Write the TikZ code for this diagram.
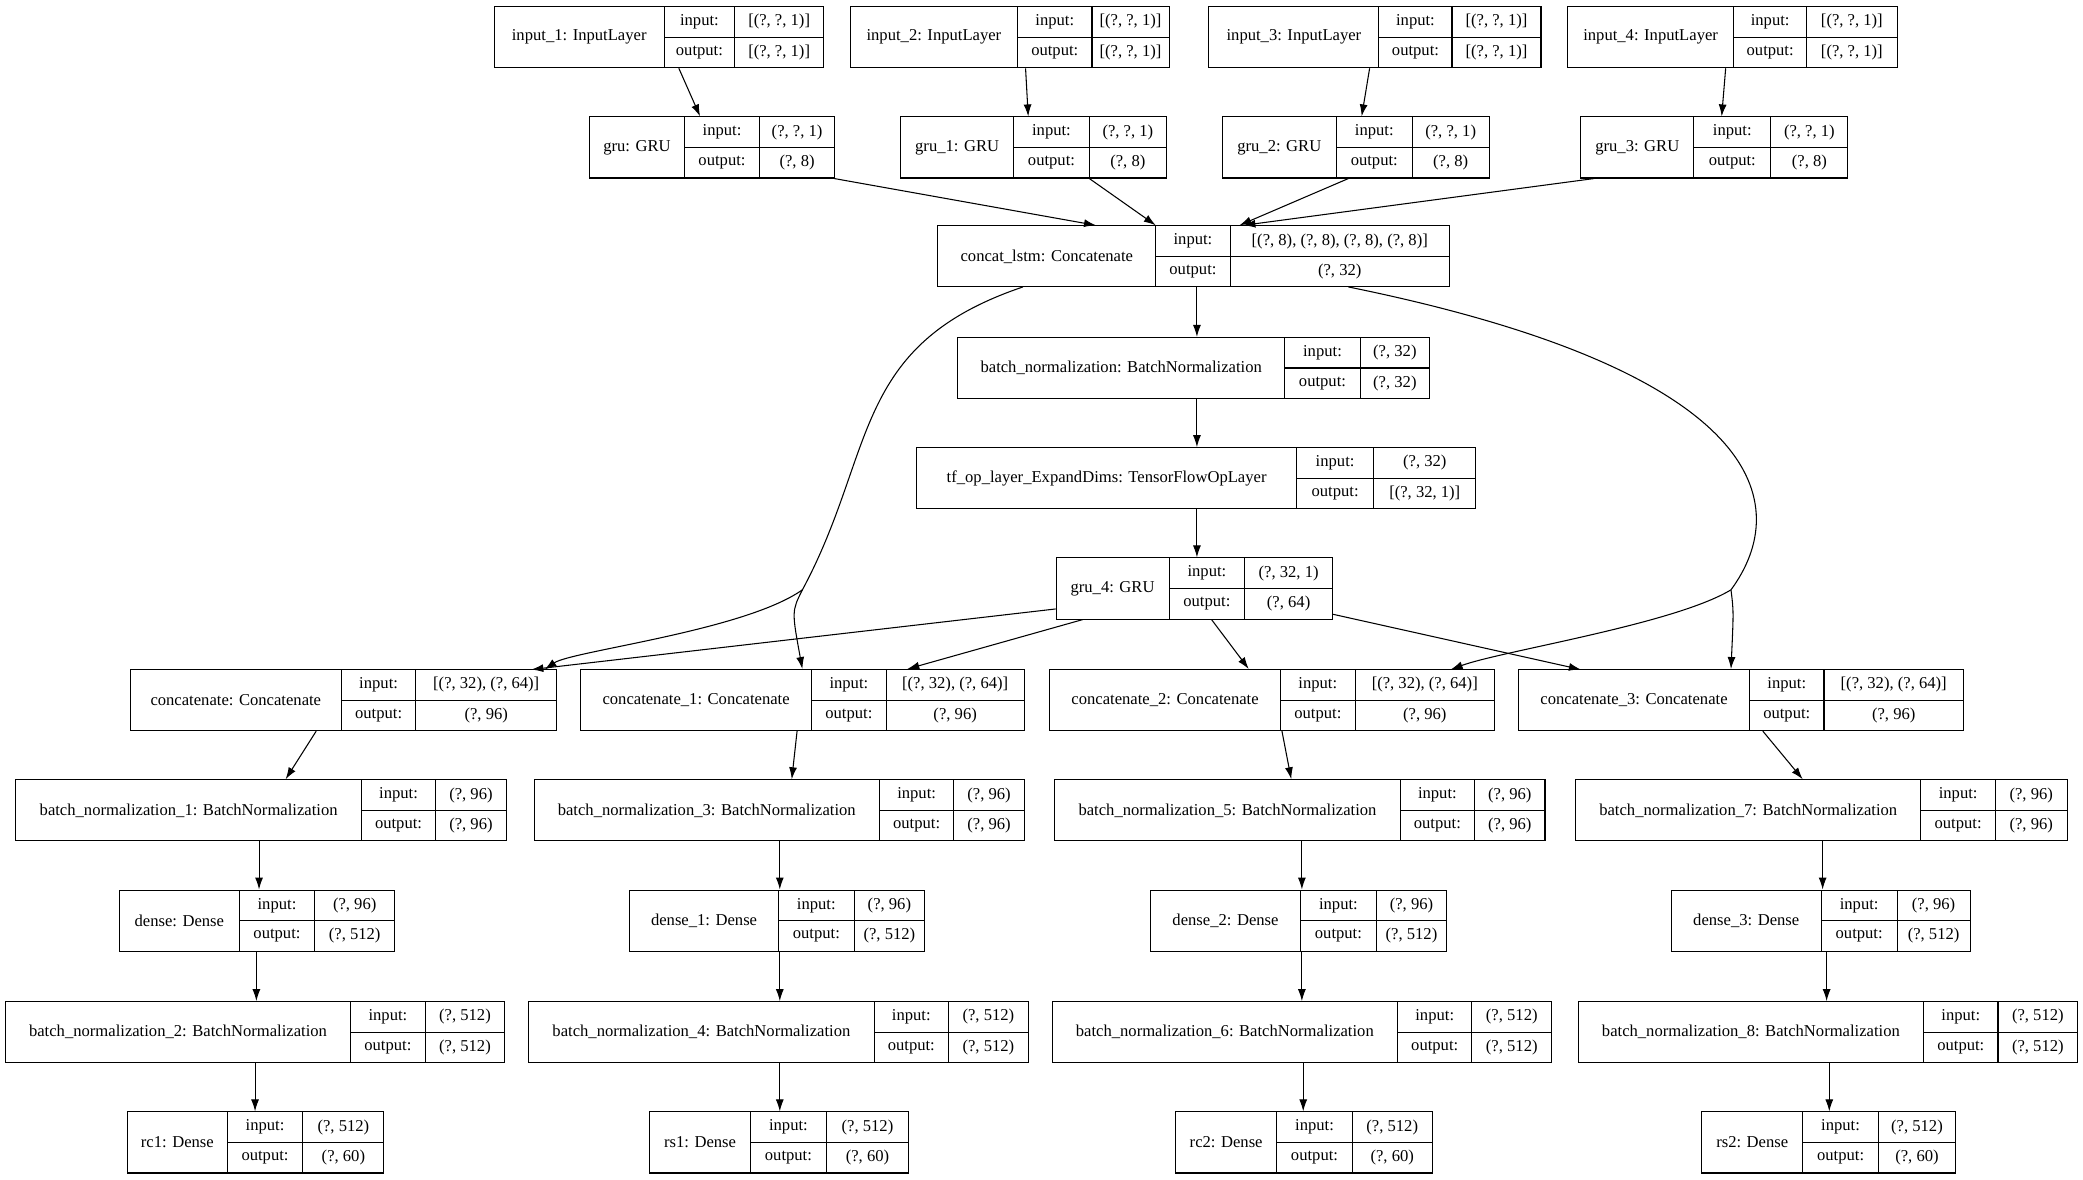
\documentclass[tikz,border=0pt]{standalone}
\usepackage{fontspec}
\setmainfont{Liberation Serif}
\usetikzlibrary{calc,arrows.meta}
\tikzset{arr/.style={-{Latex[length=9pt,width=6pt]},line width=0.8pt},
box/.style={draw,line width=0.8pt,inner sep=0,minimum height=46pt}}
\newcommand\layer[9]{%
\pgfmathsetmacro\cx{(#2+#3)/2}\pgfmathsetmacro\bw{#3-#2}\pgfmathsetmacro\cy{#4+23}%
\node[box,minimum width=\bw pt] (#1) at (\cx,\cy) {};
\draw[line width=0.8pt] (#5,#4) -- (#5,#4+46) (#6,#4) -- (#6,#4+46) (#5,\cy) -- (#3,\cy);
\node at ({(#2+#5)/2},\cy) {#7};
\node at ({(#5+#6)/2},#4+11.5) {input:};
\node at ({(#5+#6)/2},#4+34.5) {output:};
\node at ({(#6+#3)/2},#4+11.5) {#8};
\node at ({(#6+#3)/2},#4+34.5) {#9};}
\newcommand\edge[4]{\draw[arr] let \p1=(#1.south), \p2=(#3.north) in (#2pt,\y1) -- (#4pt,\y2);}
\begin{document}
\begin{tikzpicture}[x=1pt,y=-1pt,font=\fontsize{12.5}{14}\selectfont]
\useasboundingbox[fill=white] (0,0) rectangle (1568,888);
\layer{in1}{372}{620}{5}{500}{553}{input\_1: InputLayer}{[(?, ?, 1)]}{[(?, ?, 1)]}
\layer{in2}{640}{880}{5}{766}{822}{input\_2: InputLayer}{[(?, ?, 1)]}{[(?, ?, 1)]}
\layer{in3}{910}{1160}{5}{1038}{1093}{input\_3: InputLayer}{[(?, ?, 1)]}{[(?, ?, 1)]}
\layer{in4}{1180}{1428}{5}{1305}{1360}{input\_4: InputLayer}{[(?, ?, 1)]}{[(?, ?, 1)]}
\layer{g0}{444}{628}{88}{515}{572}{gru: GRU}{(?, ?, 1)}{(?, 8)}
\layer{g1}{678}{878}{88}{763}{820}{gru\_1: GRU}{(?, ?, 1)}{(?, 8)}
\layer{g2}{920}{1121}{88}{1006}{1063}{gru\_2: GRU}{(?, ?, 1)}{(?, 8)}
\layer{g3}{1190}{1391}{88}{1275}{1333}{gru\_3: GRU}{(?, ?, 1)}{(?, 8)}
\layer{cl}{706}{1091}{170}{870}{926}{concat\_lstm: Concatenate}{[(?, 8), (?, 8), (?, 8), (?, 8)]}{(?, 32)}
\layer{bn}{721}{1076}{254}{967}{1024}{batch\_normalization: BatchNormalization}{(?, 32)}{(?, 32)}
\layer{tf}{690}{1111}{337}{976}{1034}{tf\_op\_layer\_ExpandDims: TensorFlowOpLayer}{(?, 32)}{[(?, 32, 1)]}
\layer{g4}{795}{1003}{420}{880}{937}{gru\_4: GRU}{(?, 32, 1)}{(?, 64)}
\layer{c0}{98}{419}{504}{257}{313}{concatenate: Concatenate}{[(?, 32), (?, 64)]}{(?, 96)}
\layer{c1}{437}{771}{504}{611}{667}{concatenate\_1: Concatenate}{[(?, 32), (?, 64)]}{(?, 96)}
\layer{c2}{790}{1125}{504}{964}{1020}{concatenate\_2: Concatenate}{[(?, 32), (?, 64)]}{(?, 96)}
\layer{c3}{1143}{1478}{504}{1317}{1373}{concatenate\_3: Concatenate}{[(?, 32), (?, 64)]}{(?, 96)}
\layer{b1}{12}{381}{587}{272}{328}{batch\_normalization\_1: BatchNormalization}{(?, 96)}{(?, 96)}
\layer{b3}{402}{771}{587}{662}{718}{batch\_normalization\_3: BatchNormalization}{(?, 96)}{(?, 96)}
\layer{b5}{794}{1163}{587}{1054}{1110}{batch\_normalization\_5: BatchNormalization}{(?, 96)}{(?, 96)}
\layer{b7}{1186}{1556}{587}{1446}{1502}{batch\_normalization\_7: BatchNormalization}{(?, 96)}{(?, 96)}
\layer{d0}{90}{297}{670}{180}{237}{dense: Dense}{(?, 96)}{(?, 512)}
\layer{d1}{474}{696}{670}{586}{643}{dense\_1: Dense}{(?, 96)}{(?, 512)}
\layer{d2}{866}{1089}{670}{979}{1036}{dense\_2: Dense}{(?, 96)}{(?, 512)}
\layer{d3}{1258}{1483}{670}{1371}{1428}{dense\_3: Dense}{(?, 96)}{(?, 512)}
\layer{b2}{4}{380}{754}{264}{320}{batch\_normalization\_2: BatchNormalization}{(?, 512)}{(?, 512)}
\layer{b4}{398}{774}{754}{658}{714}{batch\_normalization\_4: BatchNormalization}{(?, 512)}{(?, 512)}
\layer{b6}{792}{1168}{754}{1052}{1108}{batch\_normalization\_6: BatchNormalization}{(?, 512)}{(?, 512)}
\layer{b8}{1188}{1564}{754}{1448}{1504}{batch\_normalization\_8: BatchNormalization}{(?, 512)}{(?, 512)}
\layer{r1}{96}{289}{837}{171}{228}{rc1: Dense}{(?, 512)}{(?, 60)}
\layer{r2}{489}{684}{837}{565}{622}{rs1: Dense}{(?, 512)}{(?, 60)}
\layer{r3}{885}{1078}{837}{961}{1018}{rc2: Dense}{(?, 512)}{(?, 60)}
\layer{r4}{1281}{1472}{837}{1357}{1414}{rs2: Dense}{(?, 512)}{(?, 60)}
\edge{in1}{511}{g0}{527}\edge{in2}{772}{g1}{774}\edge{in3}{1031}{g2}{1025}\edge{in4}{1299}{g3}{1296}
\edge{g0}{628}{cl}{825}\edge{g1}{820}{cl}{870}\edge{g2}{1015}{cl}{933}\edge{g3}{1200}{cl}{936}
\edge{cl}{901}{bn}{901}\edge{bn}{901}{tf}{901}\edge{tf}{901}{g4}{901}
\draw[arr] (g4.south west) ++(0,-8) -- (400,504);
\edge{g4}{815}{c1}{683}\edge{g4}{912}{c2}{940}
\draw[arr] (g4.south east) ++(0,-4) -- (1190,504);
\coordinate (L) at (604,444);
\coordinate (R) at (1303,444);
\draw[line width=0.8pt] (770,216) .. controls (640,260) and (660,340) .. (L);
\draw[arr] (L) .. controls (596,460) .. (c1.north -| L);
\draw[arr] (L) .. controls (560,475) and (430,490) .. (410,504);
\draw[line width=0.8pt] (1015,216) .. controls (1330,280) and (1350,380) .. (R);
\draw[arr] (R) .. controls (1305,460) .. (c3.north -| R);
\draw[arr] (R) .. controls (1260,470) and (1130,490) .. (1092,504);
\edge{c0}{238}{b1}{215}\edge{c1}{600}{b3}{596}\edge{c2}{965}{b5}{972}\edge{c3}{1327}{b7}{1357}
\edge{b1}{195}{d0}{195}\edge{d0}{193}{b2}{193}\edge{b2}{192}{r1}{192}
\edge{b3}{587}{d1}{587}\edge{d1}{587}{b4}{587}\edge{b4}{587}{r2}{587}
\edge{b5}{980}{d2}{980}\edge{d2}{980}{b6}{980}\edge{b6}{981}{r3}{981}
\edge{b7}{1372}{d3}{1372}\edge{d3}{1375}{b8}{1375}\edge{b8}{1377}{r4}{1377}
\end{tikzpicture}
\end{document}
